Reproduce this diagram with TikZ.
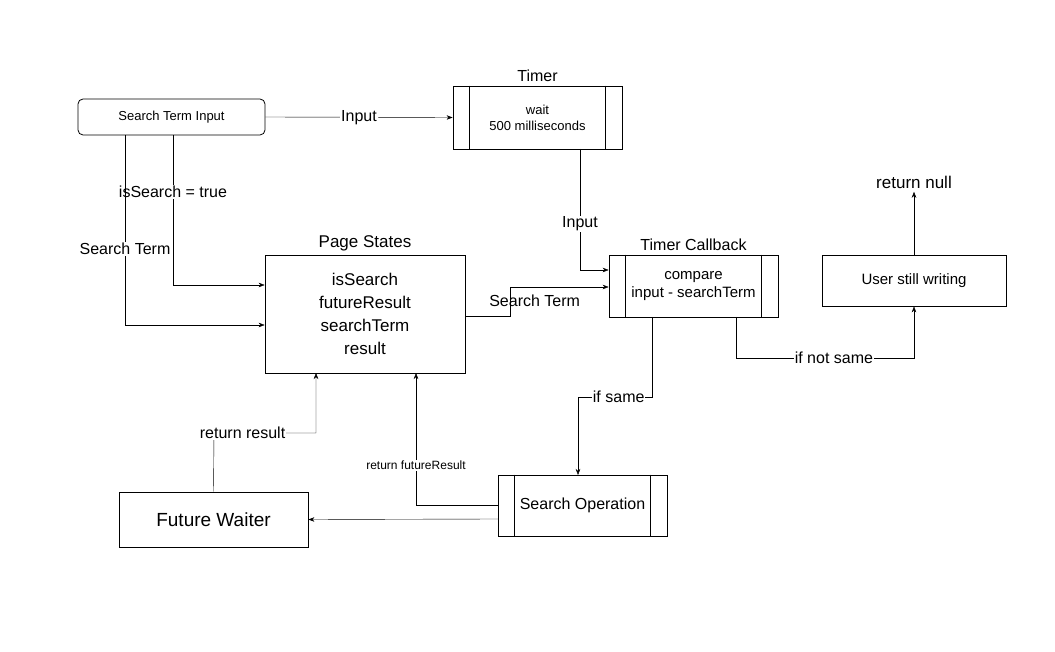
\documentclass[tikz,border=0pt]{standalone}
\usepackage{fontspec}
\setmainfont{Liberation Sans}
\usetikzlibrary{arrows.meta}
\tikzset{
  box/.style={rectangle, draw, thick, inner sep=0pt},
  proc/.style={box},
  lbl/.style={fill=white, inner sep=1pt, font=\fontsize{16}{19}\selectfont},
  arrow/.style={->, >={Stealth[length=6pt,width=4.5pt]}},
}
\newcommand{\procbars}[1]{%
  \draw ([xshift=17pt]#1.north west) -- ([xshift=17pt]#1.south west);
  \draw ([xshift=-17pt]#1.north east) -- ([xshift=-17pt]#1.south east);}

\begin{document}
\begin{tikzpicture}[x=1pt,y=-1pt]
\useasboundingbox (0,0) rectangle (1055,652);

% Nodes
\node (input) [box, rounded corners=5pt, minimum width=187pt, minimum height=36pt, font=\fontsize{13}{15}\selectfont] at (171.5,117) {Search Term Input};
\node (timer) [proc, minimum width=169pt, minimum height=63pt, align=center, font=\fontsize{13}{16}\selectfont] at (537.5,117.5) {wait\\500 milliseconds};
\node [font=\fontsize{16}{19}\selectfont, above] at (timer.north) {Timer};
\node (states) [box, minimum width=200pt, minimum height=118pt, align=center, font=\fontsize{17}{23}\selectfont] at (365,314) {isSearch\\futureResult\\searchTerm\\result};
\node [font=\fontsize{17}{20}\selectfont, above] at (states.north) {Page States};
\node (callback) [proc, minimum width=169pt, minimum height=62pt, align=center, font=\fontsize{15}{18}\selectfont] at (693.5,286) {compare\\input - searchTerm};
\node [font=\fontsize{16}{19}\selectfont, above] at (callback.north) {Timer Callback};
\node (writing) [box, minimum width=184pt, minimum height=51pt, font=\fontsize{15}{18}\selectfont] at (914,280.5) {User still writing};
\node (null) [font=\fontsize{17}{20}\selectfont] at (914,182) {return null};
\node (search) [proc, minimum width=169pt, minimum height=61pt, font=\fontsize{16}{19}\selectfont] at (582.5,505.5) {Search Operation};
\node (waiter) [box, minimum width=189pt, minimum height=55pt, font=\fontsize{19}{23}\selectfont] at (213.5,519.5) {Future Waiter};
\procbars{timer}
\procbars{callback}
\procbars{search}

% Arrows
\draw [arrow] (input.east) -- node[lbl] {Input} (timer.west);
\draw [arrow] (173,135) -- node[lbl, pos=0.38] {isSearch = true} (173,285) -- (states.west |- 0,285);
\draw [arrow] (125,135) -- node[lbl, pos=0.6] {Search Term} (125,325) -- (states.west |- 0,325);
\draw [arrow] (580,149) -- node[lbl, pos=0.62] {Input} (580,270) -- (callback.west |- 0,270);
\draw [arrow] (states.east |- 0,316) -- (510,316) -- (510,287) -- node[lbl, pos=0.25, yshift=-14pt, fill=none] {Search Term} (callback.west |- 0,287);
\draw [arrow] (652,317) -- (652,397) -- node[lbl, pos=0.45] {if same} (578,397) -- (578,475);
\draw [arrow] (736,317) -- (736,358) -- node[lbl, pos=0.55] {if not same} (914,358) -- (writing.south);
\draw [arrow] (writing.north) -- (null.south);
\draw [arrow] (498,505) -- (416,505) -- node[lbl, pos=0.3, font=\fontsize{12}{14}\selectfont] {return futureResult} (416,373);
\draw [arrow] (498,519) -- (waiter.east);
\draw [arrow] (waiter.north) -- (214,433) -- node[lbl, pos=0.28] {return result} (316,433) -- (316,373);
\end{tikzpicture}
\end{document}
